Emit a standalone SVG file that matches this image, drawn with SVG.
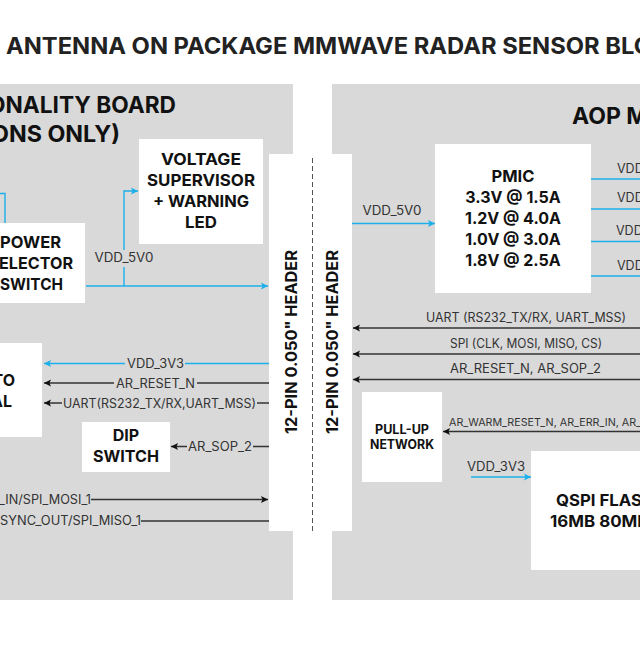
<svg xmlns="http://www.w3.org/2000/svg" width="640" height="653" viewBox="0 0 640 653">
<style>
text{font-family:"Inter","Liberation Sans",sans-serif;fill:#111}
.t{font-size:23px;font-weight:700;fill:#222}
.h{font-size:23px;font-weight:700}
.b{font-size:16px;font-weight:700;text-anchor:middle}
.s{font-size:12.500px;font-weight:400;fill:#333}
.m{text-anchor:middle}
.pu{font-size:12.500px;font-weight:700;text-anchor:middle}
.panel{fill:#d9d9d9}
.box{fill:#fff}
.bl{fill:none;stroke:#1cb0ea;stroke-width:1.4}
.k{fill:none;stroke:#333;stroke-width:1.3}
.bg{fill:#d9d9d9}
</style>
<defs>
<marker id="ab" markerUnits="userSpaceOnUse" markerWidth="8" markerHeight="8" refX="7" refY="4" orient="auto"><path d="M0 0.5L7 4L0 7.5L1.5 4Z" fill="#1cb0ea"/></marker>
<marker id="ak" markerUnits="userSpaceOnUse" markerWidth="8" markerHeight="8" refX="7" refY="4" orient="auto"><path d="M0 0.5L7 4L0 7.5L1.5 4Z" fill="#111"/></marker>
</defs>
<text class="t" x="6" y="54" textLength="646" lengthAdjust="spacingAndGlyphs">ANTENNA ON PACKAGE MMWAVE RADAR SENSOR BLO</text>
<rect class="panel" x="0" y="84" width="293" height="516"/>
<rect class="panel" x="332" y="84" width="308" height="516"/>
<text class="h" x="-12" y="112.500" textLength="188" lengthAdjust="spacingAndGlyphs">ONALITY BOARD</text>
<text class="h" x="-9" y="141.500" textLength="129" lengthAdjust="spacingAndGlyphs">ONS ONLY)</text>
<text class="h" x="572" y="123.500">AOP M</text>
<g id="header-left"><rect class="box" x="269" y="154" width="43" height="377"/><text class="b" transform="translate(297 342) rotate(-90)" textLength="184" lengthAdjust="spacingAndGlyphs">12-PIN 0.050" HEADER</text></g>
<g id="header-right"><rect class="box" x="312" y="154" width="40" height="377"/><text class="b" transform="translate(338 342) rotate(-90)" textLength="184" lengthAdjust="spacingAndGlyphs">12-PIN 0.050" HEADER</text></g>
<path d="M312.500 158V531" fill="none" stroke="#555" stroke-width="1" stroke-dasharray="5 3"/>
<g id="voltage-supervisor"><rect class="box" x="139" y="139" width="124" height="105"/><text class="b" x="201" y="165" textLength="80" lengthAdjust="spacingAndGlyphs">VOLTAGE</text><text class="b" x="201" y="186" textLength="108" lengthAdjust="spacingAndGlyphs">SUPERVISOR</text><text class="b" x="201" y="207" textLength="96" lengthAdjust="spacingAndGlyphs">+ WARNING</text><text class="b" x="201" y="228" textLength="32" lengthAdjust="spacingAndGlyphs">LED</text></g>
<g id="power-selector"><rect class="box" x="0" y="223" width="85" height="80"/><text x="0" y="248" style="font-size:16px;font-weight:700" textLength="61" lengthAdjust="spacingAndGlyphs">POWER</text><text x="-1" y="269" style="font-size:16px;font-weight:700" textLength="74" lengthAdjust="spacingAndGlyphs">ELECTOR</text><text x="0" y="290" style="font-size:16px;font-weight:700" textLength="63" lengthAdjust="spacingAndGlyphs">SWITCH</text></g>
<g id="left-box"><rect class="box" x="0" y="343" width="42" height="94"/><text class="b" x="15" y="386" style="text-anchor:end">TO</text><text class="b" x="12" y="407" style="text-anchor:end">AL</text></g>
<g id="dip-switch"><rect class="box" x="82" y="422" width="88" height="50"/><text class="b" x="126" y="441">DIP</text><text class="b" x="126" y="462" textLength="66" lengthAdjust="spacingAndGlyphs">SWITCH</text></g>
<g id="pmic"><rect class="box" x="435" y="144" width="156" height="149"/><text class="b" x="513" y="182" textLength="43" lengthAdjust="spacingAndGlyphs">PMIC</text><text class="b" x="513" y="203">3.3V @ 1.5A</text><text class="b" x="513" y="224">1.2V @ 4.0A</text><text class="b" x="513" y="245">1.0V @ 3.0A</text><text class="b" x="513" y="266">1.8V @ 2.5A</text></g>
<g id="pull-up"><rect class="box" x="362" y="392" width="80" height="90"/><text class="pu" x="402" y="434" textLength="54" lengthAdjust="spacingAndGlyphs">PULL-UP</text><text class="pu" x="402" y="449" textLength="64" lengthAdjust="spacingAndGlyphs">NETWORK</text></g>
<g id="qspi"><rect class="box" x="531" y="451" width="109" height="119"/><text x="556" y="506" style="font-size:16px;font-weight:700" textLength="86" lengthAdjust="spacingAndGlyphs">QSPI FLAS</text><text x="550" y="527" style="font-size:16px;font-weight:700" textLength="92" lengthAdjust="spacingAndGlyphs">16MB 80MI</text></g>
<g id="connectors">
<path class="bl" d="M0 193.500H5V223"/>
<path class="bl" d="M86 286H268" marker-end="url(#ab)"/>
<path class="bl" d="M124 286V191H138" marker-end="url(#ab)"/>
<path class="bl" d="M352 223.500H435" marker-end="url(#ab)"/>
<path class="bl" d="M591 179H640M591 209H640M591 241.500H640M591 276H640"/>
<path class="bl" d="M269 363.500H44" marker-end="url(#ab)"/>
<path class="bl" d="M471 477H531" marker-end="url(#ab)"/>
<path class="k" d="M269 383H44" marker-end="url(#ak)"/>
<path class="k" d="M269 403H44" marker-end="url(#ak)"/>
<path class="k" d="M269 446.500H171" marker-end="url(#ak)"/>
<path class="k" d="M0 499.500H268" marker-end="url(#ak)"/>
<path class="k" d="M0 521H269"/>
<path class="k" d="M640 328H353" marker-end="url(#ak)"/>
<path class="k" d="M640 354H353" marker-end="url(#ak)"/>
<path class="k" d="M640 379.500H353" marker-end="url(#ak)"/>
<path class="k" d="M640 431.500H443" marker-end="url(#ak)"/>
</g>
<g id="labels">
<rect class="bg" x="94" y="250" width="60" height="17"/><text class="s" x="94.500" y="262" textLength="59" lengthAdjust="spacingAndGlyphs">VDD_5V0</text>
<text class="s" x="362.500" y="215" textLength="59" lengthAdjust="spacingAndGlyphs">VDD_5V0</text>
<text class="s" x="617" y="173">VDD</text><text class="s" x="617" y="202">VDD</text><text class="s" x="616" y="235">VDD</text><text class="s" x="617" y="270">VDD</text>
<rect class="bg" x="125" y="356" width="60" height="15"/><text class="s m" x="155.500" y="367.500" textLength="57" lengthAdjust="spacingAndGlyphs">VDD_3V3</text>
<rect class="bg" x="114" y="376" width="83" height="15"/><text class="s m" x="155.500" y="387.500" textLength="79" lengthAdjust="spacingAndGlyphs">AR_RESET_N</text>
<rect class="bg" x="62" y="396" width="195" height="15"/><text class="s m" x="159.500" y="407.500" textLength="193" lengthAdjust="spacingAndGlyphs">UART(RS232_TX/RX,UART_MSS)</text>
<rect class="bg" x="187" y="440" width="66" height="15"/><text class="s m" x="220" y="451" textLength="64" lengthAdjust="spacingAndGlyphs">AR_SOP_2</text>
<rect class="bg" x="0" y="492" width="91" height="15"/><text class="s" x="-1" y="503.500" textLength="92" lengthAdjust="spacingAndGlyphs">_IN/SPI_MOSI_1</text>
<rect class="bg" x="0" y="514" width="141" height="15"/><text class="s" x="0" y="525" textLength="141" lengthAdjust="spacingAndGlyphs">SYNC_OUT/SPI_MISO_1</text>
<text class="s" x="426" y="322" textLength="200" lengthAdjust="spacingAndGlyphs">UART (RS232_TX/RX, UART_MSS)</text>
<text class="s" x="450" y="348" textLength="152" lengthAdjust="spacingAndGlyphs">SPI (CLK, MOSI, MISO, CS)</text>
<text class="s" x="450" y="373" textLength="151" lengthAdjust="spacingAndGlyphs">AR_RESET_N, AR_SOP_2</text>
<text class="s" x="449" y="426" style="font-size:10.500px" textLength="192" lengthAdjust="spacingAndGlyphs">AR_WARM_RESET_N, AR_ERR_IN, AR_</text>
<text class="s" x="467" y="471" textLength="58" lengthAdjust="spacingAndGlyphs">VDD_3V3</text>
</g>
</svg>
